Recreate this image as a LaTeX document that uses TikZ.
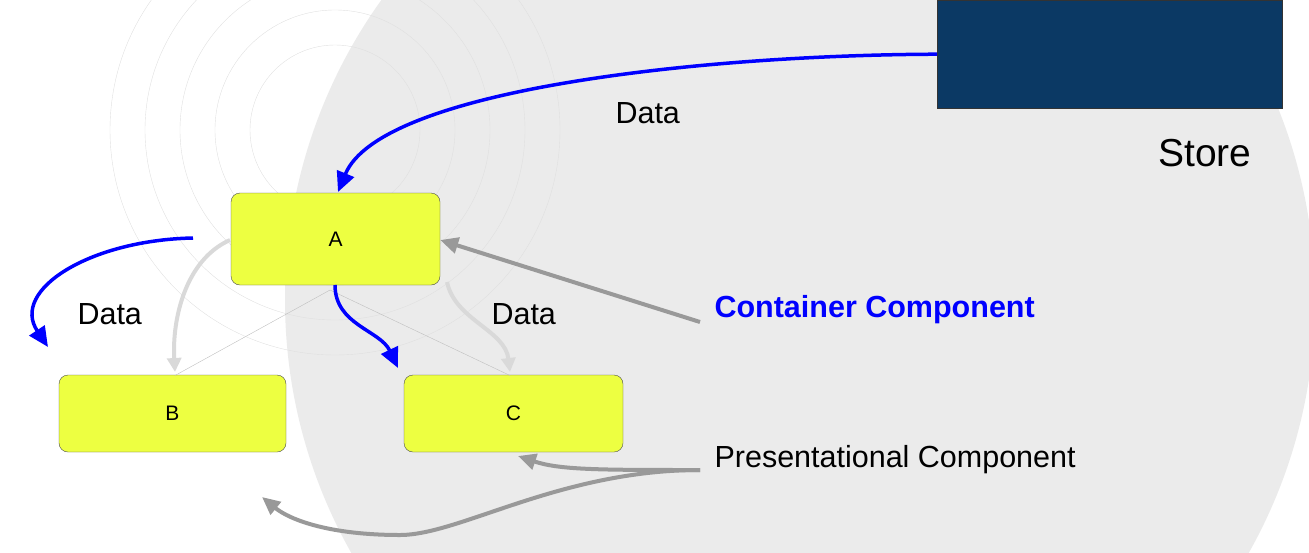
\documentclass[tikz,border=0pt]{standalone}
\usepackage{fontspec}
\setmainfont{Liberation Sans}
\usetikzlibrary{arrows.meta}
\begin{document}
\begin{tikzpicture}[x=1pt,y=-1pt,
 blue arr/.style={draw=blue,line width=3.5pt,-{Triangle[length=20pt,width=18pt]}},
 lg arr/.style={draw=black!15,line width=4pt,-{Triangle[length=14pt,width=14pt]}},
 dg arr/.style={draw=black!40,line width=4pt,-{Triangle[length=18pt,width=16pt]}},
 lbl/.style={font=\fontsize{30.5}{34}\selectfont,anchor=west}]
\useasboundingbox (0,0) rectangle (1309,552);
\begin{scope}
\clip (0,0) rectangle (1309,552);
\fill[black!8] (800,300) circle (515);
\foreach \r in {85,120,155,190,225} \draw[black!12] (335,130) circle (\r);
\end{scope}
\node[draw=black!80,fill={rgb,255:red,11;green,57;blue,100},minimum width=345pt,minimum height=108pt,inner sep=0pt,anchor=north west] (S) at (937,0) {};
\node[font=\fontsize{39}{42}\selectfont] (st) at (1205,153) {Store};
\tikzset{yb/.style={draw=black!70,fill={rgb,255:red,237;green,255;blue,65},rounded corners=9pt,inner sep=0pt,font=\fontsize{21}{24}\selectfont}}
\node[yb,minimum width=209pt,minimum height=92pt] (A) at (335.5,239) {A};
\node[yb,minimum width=227pt,minimum height=77pt] (B) at (172.5,413.5) {B};
\node[yb,minimum width=219pt,minimum height=77pt] (C) at (513.5,413.5) {C};
\coordinate (a1) at (330,290);
\draw[black!25] (a1) -- (175,375.5);
\draw[black!25] (a1) -- (510,375.5);
\draw[lg arr] (230,240) .. controls (185,260) and (172,320) .. (175,372);
\draw[lg arr] (447,282) .. controls (455,320) and (505,330) .. (510,372);
\draw[blue arr] (S.west) .. controls (700,55) and (380,90) .. (338,192);
\draw[blue arr] (193,238) .. controls (90,240) and (10,290) .. (48,347);
\draw[blue arr] (335,285) .. controls (335,325) and (380,330) .. (398,368);
\node[lbl] (d1) at (612,113) {Data};
\node[lbl] (d2) at (74,314) {Data};
\node[lbl] (d3) at (488,314) {Data};
\node[lbl,text=blue,font=\fontsize{30.5}{34}\bfseries\selectfont] (cc) at (711,310) {Container Component};
\node[lbl] (pc) at (711,460) {Presentational Component};
\draw[dg arr] (700,322) -- (A.east |- 0,240) ;
\draw[dg arr] (700,470) .. controls (600,470) and (560,470) .. (518,456);
\draw[dg arr] (700,470) .. controls (560,470) and (460,535) .. (400,535) .. controls (330,535) and (290,520) .. (262,497);
\end{tikzpicture}
\end{document}
